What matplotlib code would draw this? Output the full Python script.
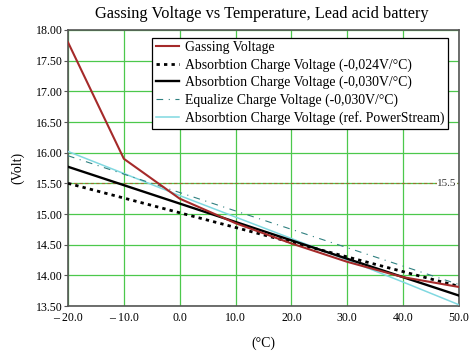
import matplotlib
matplotlib.use("Agg")
import matplotlib.pyplot as plt
import numpy as np

temps = [-20, -10, 0, 10, 20, 30, 40, 50]
gassing = [17.80, 15.90, 15.25, 14.85, 14.52, 14.22, 13.97, 13.81]
absorb_024 = [15.50, 15.26, 15.02, 14.78, 14.54, 14.30, 14.06, 13.82]
absorb_030 = [15.77, 15.47, 15.17, 14.87, 14.57, 14.27, 13.97, 13.67]
equalize_030 = [15.95, 15.65, 15.35, 15.05, 14.75, 14.45, 14.15, 13.85]
powerstream = [16.02, 15.66, 15.30, 14.95, 14.60, 14.25, 13.89, 13.52]
ref_level = 15.5

series_labels = ["Gassing Voltage",
                 "Absorbtion Charge Voltage (-0,024V/\u00b0C)",
                 "Absorbtion Charge Voltage (-0,030V/\u00b0C)",
                 "Equalize Charge Voltage (-0,030V/\u00b0C)",
                 "Absorbtion Charge Voltage (ref. PowerStream)"]
xticks = [-20, -10, 0, 10, 20, 30, 40, 50]
xticklabels = ["\u2013 20.0", "\u2013 10.0", "0.0", "10.0", "20.0", "30.0", "40.0", "50.0"]
yticks = [13.5, 14.0, 14.5, 15.0, 15.5, 16.0, 16.5, 17.0, 17.5, 18.0]
yticklabels = ["13.50", "14.00", "14.50", "15.00", "15.50", "16.00", "16.50", "17.00", "17.50", "18.00"]

plt.rcParams['font.family'] = ['Liberation Serif', 'DejaVu Serif']

fig = plt.figure(figsize=(4.74, 3.55), dpi=100)
ax = fig.add_axes([68/474, 1-306/355, (459-68)/474, (306-30)/355])

ax.set_xlim(-20, 50)
ax.set_ylim(13.5, 18.0)
ax.set_xticks(xticks)
ax.set_xticklabels(xticklabels)
ax.set_yticks(yticks)
ax.set_yticklabels(yticklabels)
ax.grid(True, color='#4cc84c', linewidth=0.9)
ax.set_axisbelow(True)
for s in ax.spines.values():
    s.set_color('#555555')
    s.set_linewidth(1.2)
ax.tick_params(axis='y', labelsize=8.6, length=3, color='#555555', pad=0.5)
ax.tick_params(axis='x', labelsize=8.6, length=0, pad=4)
for lbl in ax.get_yticklabels():
    lbl.set_va('center_baseline')

ax.axhline(ref_level, color='#9a7030', linewidth=0.8, linestyle=(0, (3, 2)), zorder=2)
ax.text(49.6, ref_level, "15.5", fontsize=8, ha='right', va='center', color='#333333',
        bbox=dict(facecolor='white', edgecolor='none', pad=0.5))

l1, = ax.plot(temps, gassing, color='#a52a2a', linewidth=1.5, zorder=5)
l2, = ax.plot(temps, absorb_024, color='black', linewidth=2, linestyle=(0, (1.2, 1.5)), zorder=4)
l3, = ax.plot(temps, absorb_030, color='black', linewidth=1.7, zorder=4)
l4, = ax.plot(temps, equalize_030, color='#2f8080', linewidth=0.8, linestyle=(0, (6, 5, 1, 5)), zorder=4)
l5, = ax.plot(temps, powerstream, color='#80d8e0', linewidth=1.1, zorder=3)

leg = ax.legend([l1, l2, l3, l4, l5], series_labels, loc='upper left',
                bbox_to_anchor=(0.215, 0.972), borderaxespad=0, fontsize=9.9,
                fancybox=False, framealpha=1, edgecolor='black', handlelength=1.7,
                handletextpad=0.45, labelspacing=0.3, borderpad=0.25)
leg.get_frame().set_linewidth(0.9)

fig.text(262/474, 1-14/355, "Gassing Voltage vs Temperature, Lead acid battery",
         ha='center', va='center', fontsize=11.8)
fig.text(263/474, 1-343/355, "(\u00b0C)", ha='center', va='center', fontsize=10)
fig.text(18/474, 1-168/355, "(Volt)", ha='center', va='center', rotation=90, fontsize=10)

fig.savefig("out.png", dpi=100)
